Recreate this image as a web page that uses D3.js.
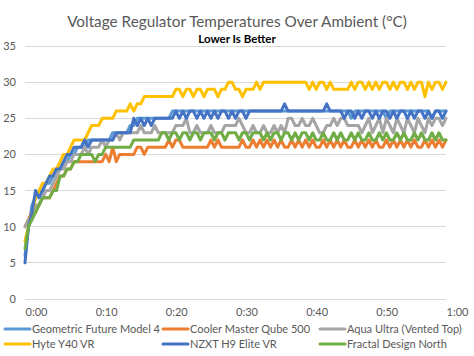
<!DOCTYPE html>
<html><head><meta charset="utf-8">
<script src="https://cdn.jsdelivr.net/npm/d3@7/dist/d3.min.js"></script>
<style>body{margin:0;background:#fff}svg{display:block}text{font-family:Lato,"Liberation Sans",sans-serif}</style>
</head><body>
<script>
const chartTitle = "Voltage Regulator Temperatures Over Ambient (°C)";
const chartSubtitle = "Lower Is Better";
const sampleMinutes = 0.5;
const xTicks = [0, 10, 20, 30, 40, 50, 60];
const xTickLabels = ["0:00", "0:10", "0:20", "0:30", "0:40", "0:50", "1:00"];
const yTicks = [0, 5, 10, 15, 20, 25, 30, 35];

const seriesNames = ["Geometric Future Model 4", "Cooler Master Qube 500", "Aqua Ultra (Vented Top)", "Hyte Y40 VR", "NZXT H9 Elite VR", "Fractal Design North"];
const seriesColors = ["#5B9BD5", "#ED7D31", "#A5A5A5", "#FFC000", "#4472C4", "#70AD47"];

const geometric = [6,10,13,14,15,15,16,16,17,18, 18,19,19,20,20,21,21,21,22,22, 22,22,22,22,22,23,23,23,23,23, 24,24,25,25,25,25,25,25,25,25,
 25,25,26,26,26,26,26,26,26,26, 26,26,26,26,26,26,26,26,26,26, 26,26,26,26,26,26,26,26,26,26, 26,26,26,26,26,26,26,26,26,26,
 26,26,26,26,26,26,26,26,26,26, 26,26,26,25,26,26,26,26,26,26, 26,26,26,25,26,26,26,26,26,26, 26,26,26,26,26,26,25,26,26,26, 26];
const coolerMaster = [10,11,12,12,13,14,14,14,15,16, 17,17,18,18,19,19,19,19,19,19, 19,19,19,20,19,21,19,20,20,20, 20,20,21,21,20,21,21,21,21,21,
 21,22,21,22,22,21,21,21,21,21, 21,21,21,22,21,22,21,21,21,21, 21,21,22,21,21,22,21,22,21,22, 21,22,21,22,21,21,22,21,22,21,
 22,21,22,21,21,22,21,22,21,22, 21,22,21,21,22,21,22,21,22,21, 22,21,21,22,21,22,21,22,21,22, 21,22,21,21,22,21,22,21,22,21, 22];
const aquaUltra = [10,11,11,13,13,14,15,15,16,17, 18,18,19,19,20,20,20,21,20,21, 21,21,22,21,22,22,23,22,23,23, 23,23,23,24,23,23,23,24,23,23,
 23,23,23,24,24,24,25,23,23,24, 23,23,23,24,23,23,23,24,24,24, 24,25,24,23,23,24,23,23,24,23, 23,24,23,24,23,25,25,24,24,25,
 24,24,25,24,23,23,24,24,25,24, 25,25,24,24,24,24,23,24,25,23, 24,25,23,25,24,23,25,24,23,25, 24,23,25,24,23,25,24,25,25,24, 25];
const hyte = [8,10,12,14,15,16,16,17,18,18, 19,20,20,21,22,22,22,22,23,24, 24,24,25,25,25,25,26,26,26,26, 27,26,27,27,28,28,28,28,28,28,
 28,28,28,29,29,28,29,29,28,29, 29,28,29,29,29,28,29,29,30,30, 29,29,28,29,29,29,30,29,30,30, 30,30,30,30,30,30,30,30,30,30,
 30,29,30,29,30,30,29,30,29,29, 29,29,29,30,29,30,30,29,30,29, 30,29,30,30,29,30,29,30,30,29, 30,29,30,30,28,30,29,30,30,29, 30];
const nzxt = [5,10,12,15,14,15,16,17,17,18, 18,19,20,20,21,21,21,22,21,22, 22,22,22,22,22,22,23,23,23,23, 23,25,24,25,24,25,24,25,25,25,
 25,25,25,26,25,26,25,26,26,25, 26,25,26,25,26,25,26,26,25,26, 25,26,26,25,26,26,26,26,26,26, 26,26,26,26,27,26,26,26,26,26,
 26,26,26,26,26,26,27,26,26,26, 26,25,26,26,25,26,25,26,26,25, 26,25,26,26,25,26,25,26,26,25, 26,25,26,26,25,26,25,26,26,25, 26];
const fractal = [7,10,11,12,13,14,14,14,15,15, 17,17,18,18,19,19,20,20,20,20, 19,20,20,21,21,21,21,21,21,21, 21,22,22,22,22,22,22,22,22,23,
 23,22,23,23,22,23,23,22,23,23, 22,23,23,23,22,23,23,22,23,23, 23,22,23,23,22,23,23,23,22,23, 22,23,23,22,23,23,22,23,22,23,
 23,22,23,22,22,23,22,22,23,22, 23,22,22,23,22,23,22,22,23,22, 22,23,22,23,22,22,23,22,23,22, 22,23,22,23,22,22,23,22,23,22, 22];

const seriesValues = [geometric, coolerMaster, aquaUltra, hyte, nzxt, fractal];

const W = 474, H = 356;
const svg = d3.select("body").append("svg").attr("width", W).attr("height", H);
svg.append("rect").attr("width", W).attr("height", H).attr("fill", "#fff");

const x = d3.scaleLinear().domain([0, 60]).range([25, 446]);
const y = d3.scaleLinear().domain([0, 35]).range([299, 46]);

// gridlines
svg.append("g").selectAll("line").data(yTicks).join("line")
  .attr("x1", x(0)).attr("x2", x(60))
  .attr("y1", d => y(d)).attr("y2", d => y(d))
  .attr("stroke", "#d9d9d9").attr("stroke-width", 1).attr("shape-rendering", "crispEdges");

// y axis labels
const yAxis = d3.axisLeft(y).tickValues(yTicks).tickSize(0).tickPadding(0);
const gy = svg.append("g").attr("transform", "translate(16,0)").call(yAxis);
gy.select(".domain").remove();
gy.selectAll("text").attr("fill", "#595959").style("font-size", "11px").style("font-family", "Lato, 'Liberation Sans', sans-serif");

// x axis labels
const xAxis = d3.axisBottom(x).tickValues(xTicks).tickSize(0).tickPadding(0).tickFormat((d, i) => xTickLabels[i]);
const gx = svg.append("g").attr("transform", "translate(0,308)").call(xAxis);
gx.select(".domain").remove();
gx.selectAll("text").attr("fill", "#595959").attr("text-anchor", "start").style("font-size", "11px").style("font-family", "Lato, 'Liberation Sans', sans-serif");

// lines
const line = d3.line().x((d, i) => x(i * sampleMinutes)).y(d => y(d));
seriesValues.forEach((vals, k) => {
  svg.append("path").datum(vals).attr("d", line)
    .attr("fill", "none").attr("stroke", seriesColors[k]).attr("stroke-width", 3)
    .attr("stroke-linejoin", "round").attr("stroke-linecap", "round");
});

// title
svg.append("text").attr("x", 237).attr("y", 27).attr("text-anchor", "middle")
  .attr("fill", "#595959").style("font-size", "15.3px").text(chartTitle);
svg.append("text").attr("x", 237).attr("y", 43).attr("text-anchor", "middle")
  .attr("fill", "#000").style("font-size", "11.5px").style("font-weight", "bold").text(chartSubtitle);

// legend
const legendCols = [5, 163, 320];
const legendRows = [329, 344];
const lg = svg.append("g");
seriesNames.forEach((name, k) => {
  const cx = legendCols[k % 3], cy = legendRows[Math.floor(k / 3)];
  lg.append("line").attr("x1", cx).attr("x2", cx + 25).attr("y1", cy).attr("y2", cy)
    .attr("stroke", seriesColors[k]).attr("stroke-width", 3).attr("stroke-linecap", "round");
  lg.append("text").attr("x", cx + 27).attr("y", cy).attr("dy", "0.35em")
    .attr("fill", "#595959").style("font-size", "11px").text(name);
});
</script>
</body></html>
